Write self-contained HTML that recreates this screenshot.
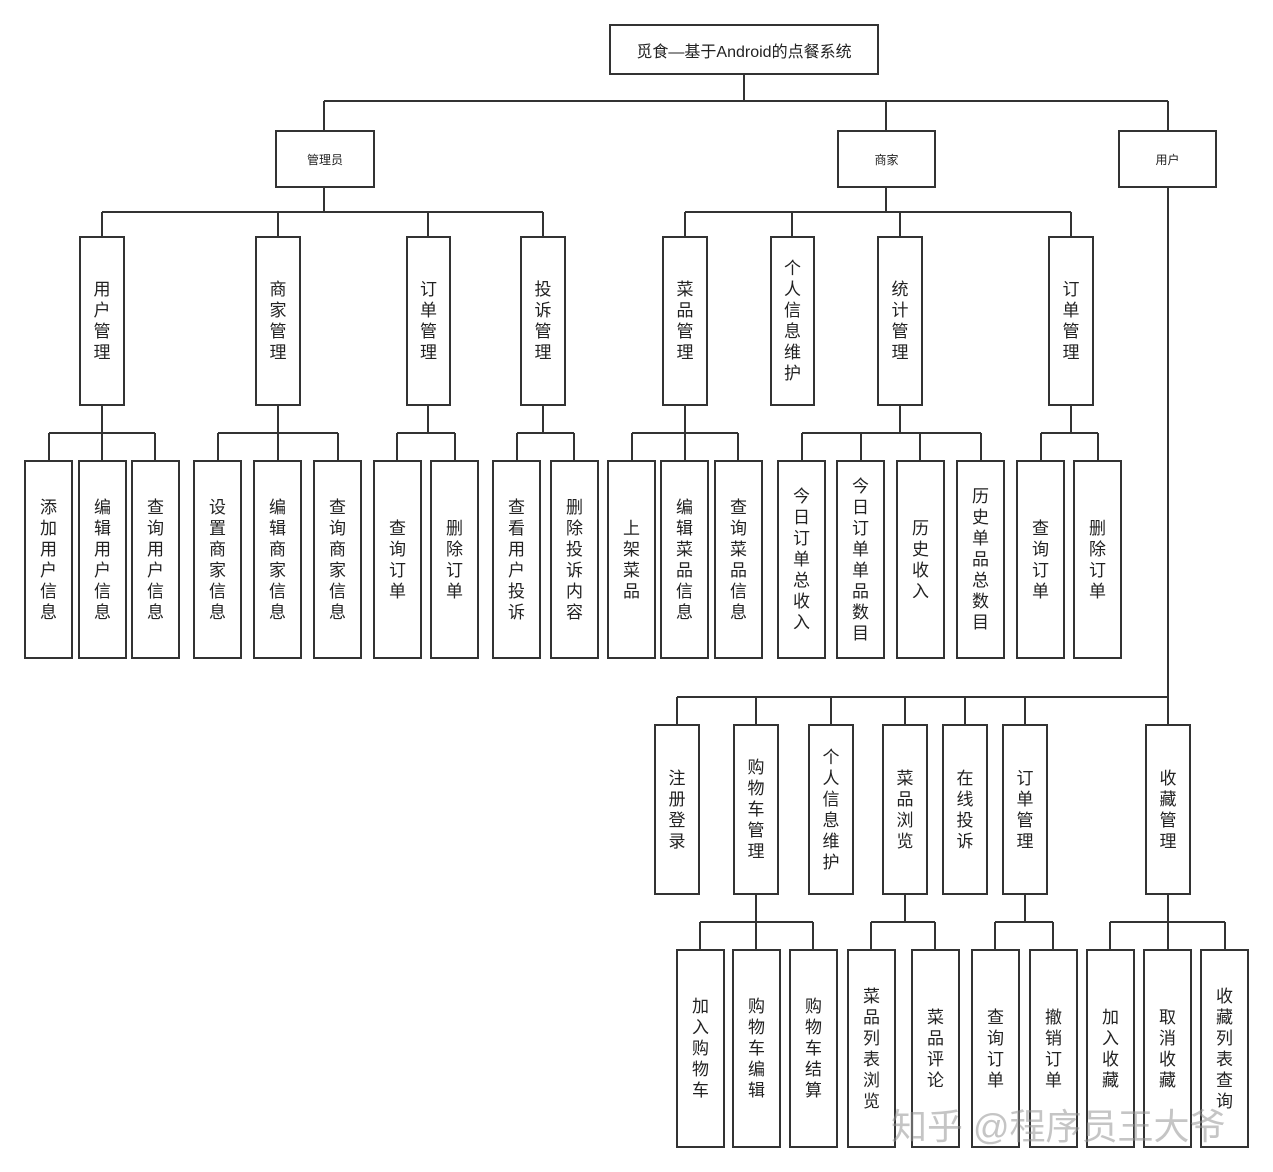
<!DOCTYPE html>
<html><head><meta charset="utf-8"><style>
body{margin:0;background:#fff;}
#c{position:relative;width:1273px;height:1172px;overflow:hidden;background:#fff;font-family:"Liberation Sans","Noto Sans CJK SC",sans-serif;color:#222;}
svg{position:absolute;left:0;top:0;}
.b{position:absolute;border:2px solid #333;box-sizing:border-box;background:#fff;display:flex;align-items:center;justify-content:center;}
.v span{display:block;width:18px;font-size:17px;line-height:21px;text-align:center;word-break:break-all;}
.h{font-size:12px;}
.wm{position:absolute;left:891px;top:1098px;font-size:36px;color:rgba(150,150,150,0.55);white-space:nowrap;letter-spacing:0px;}
</style></head><body><div id="c">
<svg width="1273" height="1172"><g stroke="#333" stroke-width="2" fill="none">
<path d="M744 74V101M324 101H1168M324 101V131M886 101V131M1168 101V131"/>
<path d="M324 187V212M102 212H543M102 212V237M278 212V237M428 212V237M543 212V237"/>
<path d="M886 187V212M685 212H1071M685 212V237M792 212V237M900 212V237M1071 212V237"/>
<path d="M102 405V433M49 433H155M49 433V461M102 433V461M155 433V461"/>
<path d="M278 405V433M218 433H338M218 433V461M278 433V461M338 433V461"/>
<path d="M428 405V433M397 433H455M397 433V461M455 433V461"/>
<path d="M543 405V433M517 433H574M517 433V461M574 433V461"/>
<path d="M685 405V433M632 433H738M632 433V461M685 433V461M738 433V461"/>
<path d="M900 405V433M802 433H981M802 433V461M861 433V461M920 433V461M981 433V461"/>
<path d="M1071 405V433M1041 433H1098M1041 433V461M1098 433V461"/>
<path d="M1168 187V697M677 697H1168M677 697V725M756 697V725M831 697V725M905 697V725M965 697V725M1025 697V725M1168 697V725"/>
<path d="M756 894V922M700 922H813M700 922V950M756 922V950M813 922V950"/>
<path d="M905 894V922M871 922H935M871 922V950M935 922V950"/>
<path d="M1025 894V922M995 922H1053M995 922V950M1053 922V950"/>
<path d="M1168 894V922M1110 922H1225M1110 922V950M1168 922V950M1225 922V950"/>
</g></svg>

<div class="b" style="left:609px;top:24px;width:270px;height:51px;font-size:16px;">觅食—基于Android的点餐系统</div>
<div class="b h" style="left:275px;top:130px;width:100px;height:58px;">管理员</div>
<div class="b h" style="left:837px;top:130px;width:99px;height:58px;">商家</div>
<div class="b h" style="left:1118px;top:130px;width:99px;height:58px;">用户</div>

<div class="b v" style="left:79px;top:236px;width:46px;height:170px;"><span>用户管理</span></div>
<div class="b v" style="left:255px;top:236px;width:46px;height:170px;"><span>商家管理</span></div>
<div class="b v" style="left:406px;top:236px;width:45px;height:170px;"><span>订单管理</span></div>
<div class="b v" style="left:520px;top:236px;width:46px;height:170px;"><span>投诉管理</span></div>
<div class="b v" style="left:662px;top:236px;width:46px;height:170px;"><span>菜品管理</span></div>
<div class="b v" style="left:770px;top:236px;width:45px;height:170px;"><span>个人信息维护</span></div>
<div class="b v" style="left:877px;top:236px;width:46px;height:170px;"><span>统计管理</span></div>
<div class="b v" style="left:1048px;top:236px;width:46px;height:170px;"><span>订单管理</span></div>

<div class="b v" style="left:24px;top:460px;width:49px;height:199px;"><span>添加用户信息</span></div>
<div class="b v" style="left:78px;top:460px;width:49px;height:199px;"><span>编辑用户信息</span></div>
<div class="b v" style="left:131px;top:460px;width:49px;height:199px;"><span>查询用户信息</span></div>
<div class="b v" style="left:193px;top:460px;width:49px;height:199px;"><span>设置商家信息</span></div>
<div class="b v" style="left:253px;top:460px;width:49px;height:199px;"><span>编辑商家信息</span></div>
<div class="b v" style="left:313px;top:460px;width:49px;height:199px;"><span>查询商家信息</span></div>
<div class="b v" style="left:373px;top:460px;width:49px;height:199px;"><span>查询订单</span></div>
<div class="b v" style="left:430px;top:460px;width:49px;height:199px;"><span>删除订单</span></div>
<div class="b v" style="left:492px;top:460px;width:49px;height:199px;"><span>查看用户投诉</span></div>
<div class="b v" style="left:550px;top:460px;width:49px;height:199px;"><span>删除投诉内容</span></div>
<div class="b v" style="left:607px;top:460px;width:49px;height:199px;"><span>上架菜品</span></div>
<div class="b v" style="left:660px;top:460px;width:49px;height:199px;"><span>编辑菜品信息</span></div>
<div class="b v" style="left:714px;top:460px;width:49px;height:199px;"><span>查询菜品信息</span></div>
<div class="b v" style="left:777px;top:460px;width:49px;height:199px;"><span>今日订单总收入</span></div>
<div class="b v" style="left:836px;top:460px;width:49px;height:199px;"><span>今日订单单品数目</span></div>
<div class="b v" style="left:896px;top:460px;width:49px;height:199px;"><span>历史收入</span></div>
<div class="b v" style="left:956px;top:460px;width:49px;height:199px;"><span>历史单品总数目</span></div>
<div class="b v" style="left:1016px;top:460px;width:49px;height:199px;"><span>查询订单</span></div>
<div class="b v" style="left:1073px;top:460px;width:49px;height:199px;"><span>删除订单</span></div>

<div class="b v" style="left:654px;top:724px;width:46px;height:171px;"><span>注册登录</span></div>
<div class="b v" style="left:733px;top:724px;width:46px;height:171px;"><span>购物车管理</span></div>
<div class="b v" style="left:808px;top:724px;width:46px;height:171px;"><span>个人信息维护</span></div>
<div class="b v" style="left:882px;top:724px;width:46px;height:171px;"><span>菜品浏览</span></div>
<div class="b v" style="left:942px;top:724px;width:46px;height:171px;"><span>在线投诉</span></div>
<div class="b v" style="left:1002px;top:724px;width:46px;height:171px;"><span>订单管理</span></div>
<div class="b v" style="left:1145px;top:724px;width:46px;height:171px;"><span>收藏管理</span></div>

<div class="b v" style="left:676px;top:949px;width:49px;height:199px;"><span>加入购物车</span></div>
<div class="b v" style="left:732px;top:949px;width:49px;height:199px;"><span>购物车编辑</span></div>
<div class="b v" style="left:789px;top:949px;width:49px;height:199px;"><span>购物车结算</span></div>
<div class="b v" style="left:847px;top:949px;width:49px;height:199px;"><span>菜品列表浏览</span></div>
<div class="b v" style="left:911px;top:949px;width:49px;height:199px;"><span>菜品评论</span></div>
<div class="b v" style="left:971px;top:949px;width:49px;height:199px;"><span>查询订单</span></div>
<div class="b v" style="left:1029px;top:949px;width:49px;height:199px;"><span>撤销订单</span></div>
<div class="b v" style="left:1086px;top:949px;width:49px;height:199px;"><span>加入收藏</span></div>
<div class="b v" style="left:1143px;top:949px;width:49px;height:199px;"><span>取消收藏</span></div>
<div class="b v" style="left:1200px;top:949px;width:49px;height:199px;"><span>收藏列表查询</span></div>

<div class="wm">知乎 @程序员王大爷</div>
</div></body></html>
